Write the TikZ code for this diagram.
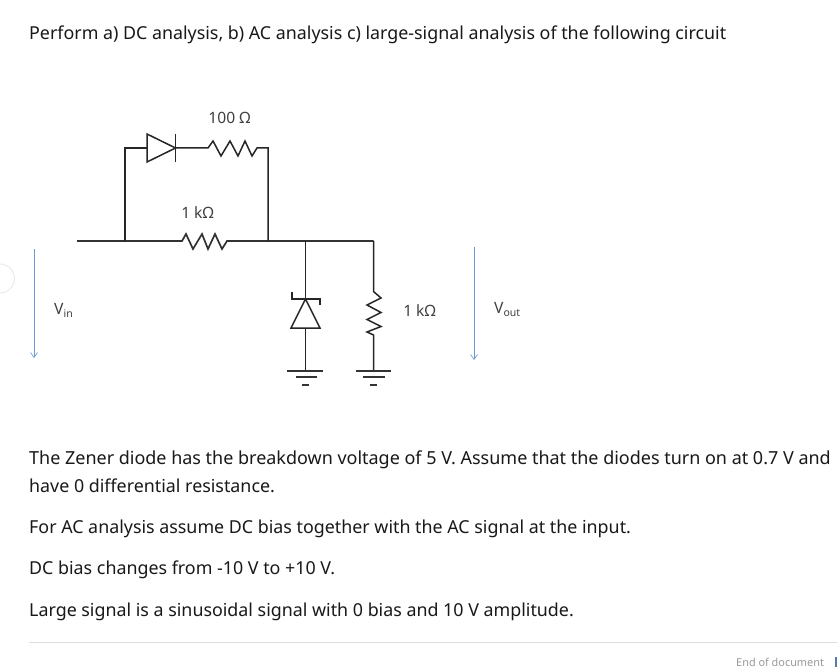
\documentclass[tikz,border=0pt]{standalone}
\usepackage{fontspec}
\setmainfont{Noto Sans}
\usetikzlibrary{arrows.meta}
\definecolor{voltblue}{HTML}{6A9BD0}
\tikzset{
  wire/.style={draw=black!85,line width=1.5pt,line join=miter},
  thickwire/.style={draw=black!80,line width=1.7pt},
  volt/.style={draw=voltblue,line width=0.9pt,-{Straight Barb[length=5pt,width=7pt,line width=0.6pt]}},
  para/.style={anchor=base west,inner sep=0pt,font=\fontsize{17.85}{20}\selectfont,text=black!90},
  lbl/.style={anchor=base,inner sep=0pt,font=\fontsize{15.6}{18}\selectfont,text=black!75},
}
\begin{document}
\begin{tikzpicture}[x=1pt,y=-1pt]
\useasboundingbox (0,0) rectangle (837,668);
\fill[white] (0,0) rectangle (837,668);
% paragraphs
\node[para] (t1) at (29,40) {Perform a) DC analysis, b) AC analysis c) large-signal analysis of the following circuit};
\node[para,font=\fontsize{17.97}{20}\selectfont] (t2) at (29,464) {The Zener diode has the breakdown voltage of 5 V. Assume that the diodes turn on at 0.7 V and};
\node[para] (t3) at (29,492) {have 0 differential resistance.};
\node[para] (t4) at (29,533) {For AC analysis assume DC bias together with the AC signal at the input.};
\node[para] (t5) at (29,574) {DC bias changes from -10 V to +10 V.};
\node[para] (t6) at (29,616) {Large signal is a sinusoidal signal with 0 bias and 10 V amplitude.};
% labels
\node[lbl] (r1) at (229.5,124) {100 Ω};
\node[lbl] (r2) at (197.5,219) {1 kΩ};
\node[lbl] (r3) at (419.5,316) {1 kΩ};
\node[lbl,anchor=base west] (vi) at (54,314) {V\raisebox{-3pt}{\fontsize{10.5}{12}\selectfont in}};
\node[lbl,anchor=base west] (vo) at (494,313) {V\raisebox{-3pt}{\fontsize{10.5}{12}\selectfont out}};
% coordinates
\coordinate (inL) at (77,241);
\coordinate (j1) at (125,241);
\coordinate (j2) at (268,241);
\coordinate (j3) at (305.5,241);
\coordinate (outR) at (373.5,241);
\coordinate (topL) at (125,148);
\coordinate (topR) at (268,148);
\coordinate (da) at (147,148);
\coordinate (dc) at (175.5,148);
\coordinate (zc) at (305.5,299);
\coordinate (za) at (305.5,328);
\coordinate (g1) at (305.5,371);
\coordinate (g2) at (373.5,371);
% main wire
\draw[thickwire] (inL) -- (j1) -- (182,241) -- (186,234) -- (193,249) -- (202,234) -- (208,249) -- (215,234) -- (222,249) -- (227,241) -- (j2) -- (j3) -- (outR);
% upper branch
\draw[wire] (j1) -- (topL) -- (da);
\draw[wire] (147,134) -- (147,162) -- (dc) -- cycle;
\draw[wire] (175.5,134) -- (175.5,162);
\draw[wire] (dc) -- (208,148) -- (213,141) -- (221,156) -- (230,141) -- (238,156) -- (245,141) -- (252,156) -- (257,148) -- (topR) -- (j2);
% zener
\draw[wire] (j3) -- (zc);
\draw[wire] (292,292) -- (292,299) -- (320,299) -- (320,305);
\draw[wire] (zc) -- (291,328) -- (320,328) -- cycle;
\draw[wire] (za) -- (g1);
\draw[thickwire] (287,371) -- (323,371);
\draw[thickwire] (296,377) -- (317,377);
\draw[thickwire] (302,385) -- (309,385);
% right resistor
\draw[wire] (outR) -- (373.5,291.5) -- (381,298) -- (367,305) -- (381,312.5) -- (367,319.5) -- (381,326.5) -- (367,332) -- (373.5,335) -- (g2);
\draw[thickwire] (356,371) -- (391,371);
\draw[thickwire] (363,377) -- (385,377);
\draw[thickwire] (370,385) -- (377,385);
% voltage arrows
\draw[volt] (34,249) -- (34,358);
\draw[volt] (474,247) -- (474,360);
% UI remnants
\draw[black!8,line width=1pt] (0,293) arc[start angle=90,end angle=-90,radius=14.5];
\draw[black!13,line width=0.8pt] (29,642.5) -- (837,642.5);
\node[anchor=base west,inner sep=0pt,font=\fontsize{10.9}{13}\selectfont,text=black!40] (end) at (736,666) {End of document};
\fill[voltblue!80!black] (835,657) rectangle (837,667);
\end{tikzpicture}
\end{document}
